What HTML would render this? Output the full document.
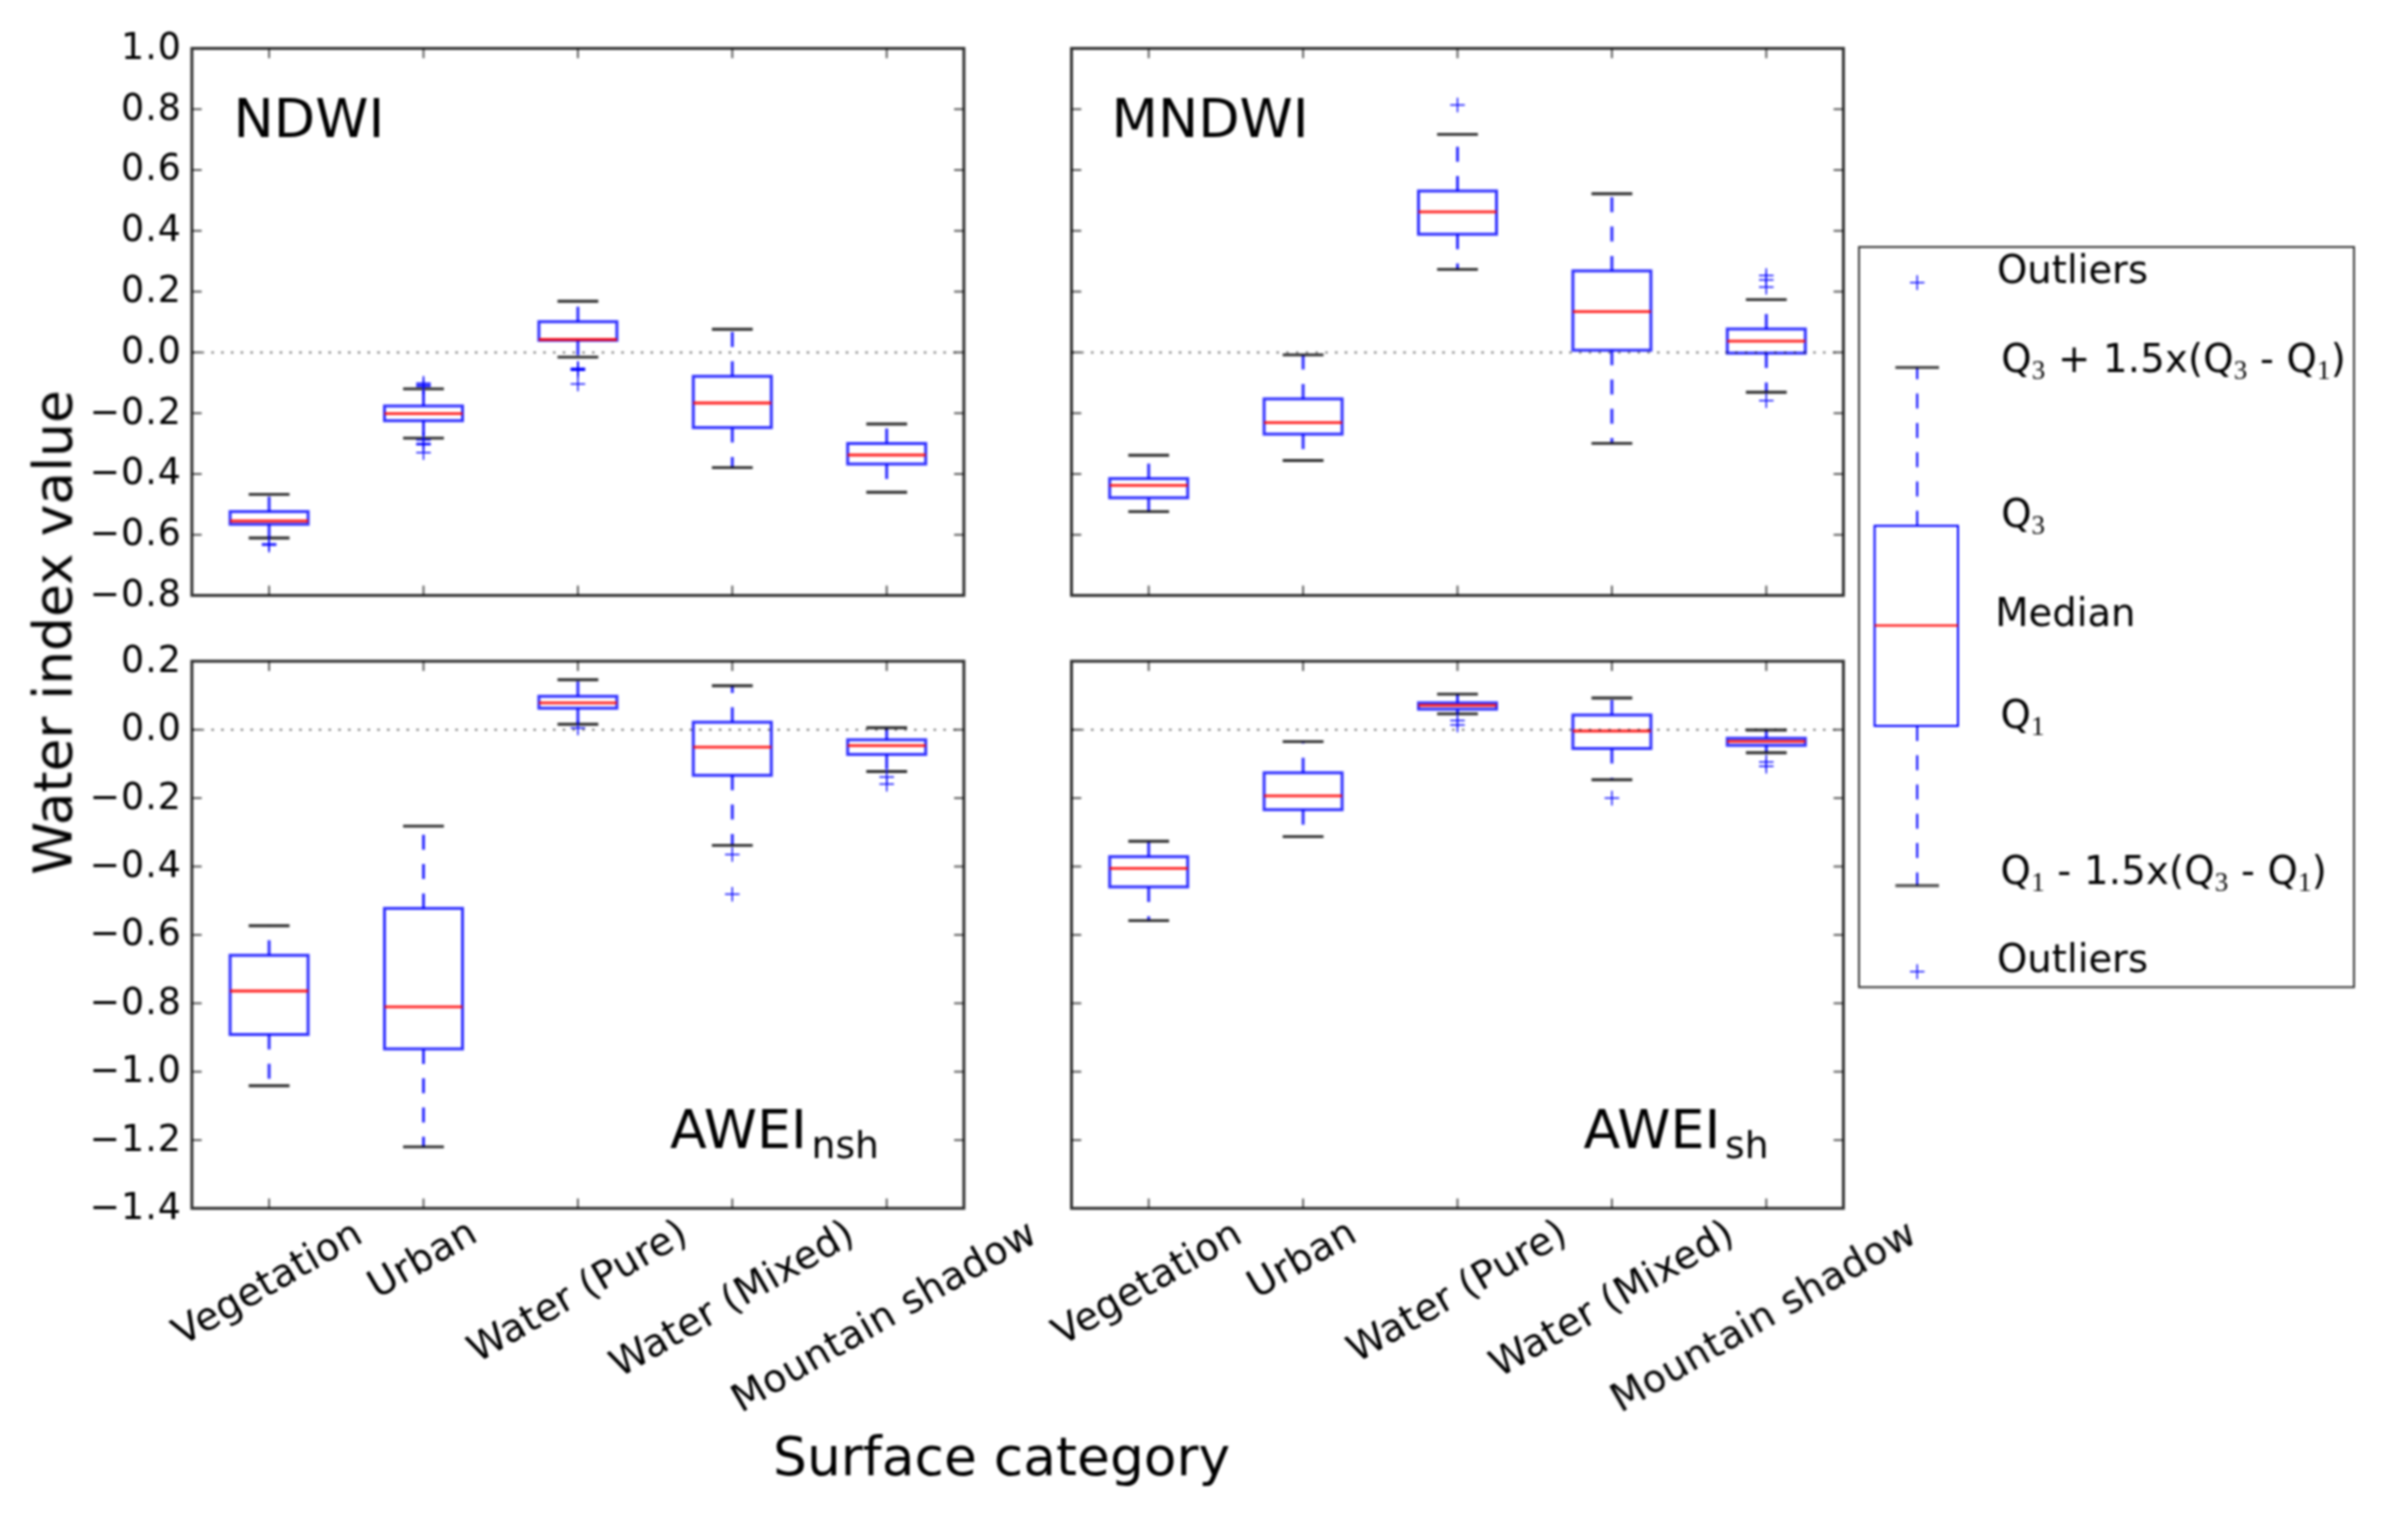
<!DOCTYPE html>
<html lang="en"><head><meta charset="utf-8"><title>Water index boxplots</title>
<style>html,body{margin:0;padding:0;background:#fff}body{width:2386px;height:1516px;overflow:hidden}svg{display:block}svg text{font-family:"DejaVu Sans","Liberation Sans",sans-serif;fill:#000}svg text .sub{font-family:"Liberation Serif","DejaVu Serif",serif}</style></head><body>
<svg width="2386" height="1516" viewBox="0 0 2386 1516">
<defs><filter id="soft" x="-2%" y="-2%" width="104%" height="104%" color-interpolation-filters="sRGB"><feGaussianBlur stdDeviation="0.9"/></filter></defs>
<rect width="2386" height="1516" fill="#fff"/>
<g filter="url(#soft)">
<line x1="269.1" y1="511.6" x2="269.1" y2="494.4" stroke="#0000ff" stroke-width="3" stroke-dasharray="15 14.3" stroke-opacity="0.8"/>
<line x1="269.1" y1="524.2" x2="269.1" y2="538" stroke="#0000ff" stroke-width="3" stroke-dasharray="15 14.3" stroke-opacity="0.8"/>
<line x1="248.7" y1="494.4" x2="289.5" y2="494.4" stroke="#000000" stroke-width="2.9" stroke-opacity="0.82"/>
<line x1="248.7" y1="538" x2="289.5" y2="538" stroke="#000000" stroke-width="2.9" stroke-opacity="0.82"/>
<rect x="230.1" y="511.6" width="78" height="12.6" fill="none" stroke="#0000ff" stroke-width="3" stroke-opacity="0.8"/>
<line x1="230.1" y1="521" x2="308.1" y2="521" stroke="#ff0000" stroke-width="2.8" stroke-opacity="0.85"/>
<line x1="261.8" y1="543.8" x2="276.4" y2="543.8" stroke="#0000ff" stroke-width="1.35"/>
<line x1="269.1" y1="536.5" x2="269.1" y2="551.1" stroke="#0000ff" stroke-width="1.35"/>
<line x1="261.8" y1="545.2" x2="276.4" y2="545.2" stroke="#0000ff" stroke-width="1.35"/>
<line x1="269.1" y1="537.9" x2="269.1" y2="552.5" stroke="#0000ff" stroke-width="1.35"/>
<line x1="423.5" y1="406" x2="423.5" y2="388.9" stroke="#0000ff" stroke-width="3" stroke-dasharray="15 14.3" stroke-opacity="0.8"/>
<line x1="423.5" y1="420.7" x2="423.5" y2="438.1" stroke="#0000ff" stroke-width="3" stroke-dasharray="15 14.3" stroke-opacity="0.8"/>
<line x1="403.1" y1="388.9" x2="443.9" y2="388.9" stroke="#000000" stroke-width="2.9" stroke-opacity="0.82"/>
<line x1="403.1" y1="438.1" x2="443.9" y2="438.1" stroke="#000000" stroke-width="2.9" stroke-opacity="0.82"/>
<rect x="384.5" y="406" width="78" height="14.7" fill="none" stroke="#0000ff" stroke-width="3" stroke-opacity="0.8"/>
<line x1="384.5" y1="413.6" x2="462.5" y2="413.6" stroke="#ff0000" stroke-width="2.8" stroke-opacity="0.85"/>
<line x1="416.2" y1="383.2" x2="430.8" y2="383.2" stroke="#0000ff" stroke-width="1.35"/>
<line x1="423.5" y1="375.9" x2="423.5" y2="390.5" stroke="#0000ff" stroke-width="1.35"/>
<line x1="416.2" y1="385" x2="430.8" y2="385" stroke="#0000ff" stroke-width="1.35"/>
<line x1="423.5" y1="377.7" x2="423.5" y2="392.3" stroke="#0000ff" stroke-width="1.35"/>
<line x1="416.2" y1="386.4" x2="430.8" y2="386.4" stroke="#0000ff" stroke-width="1.35"/>
<line x1="423.5" y1="379.1" x2="423.5" y2="393.7" stroke="#0000ff" stroke-width="1.35"/>
<line x1="416.2" y1="440" x2="430.8" y2="440" stroke="#0000ff" stroke-width="1.35"/>
<line x1="423.5" y1="432.7" x2="423.5" y2="447.3" stroke="#0000ff" stroke-width="1.35"/>
<line x1="416.2" y1="443.6" x2="430.8" y2="443.6" stroke="#0000ff" stroke-width="1.35"/>
<line x1="423.5" y1="436.3" x2="423.5" y2="450.9" stroke="#0000ff" stroke-width="1.35"/>
<line x1="416.2" y1="444.6" x2="430.8" y2="444.6" stroke="#0000ff" stroke-width="1.35"/>
<line x1="423.5" y1="437.3" x2="423.5" y2="451.9" stroke="#0000ff" stroke-width="1.35"/>
<line x1="416.2" y1="452.6" x2="430.8" y2="452.6" stroke="#0000ff" stroke-width="1.35"/>
<line x1="423.5" y1="445.3" x2="423.5" y2="459.9" stroke="#0000ff" stroke-width="1.35"/>
<line x1="577.9" y1="321.7" x2="577.9" y2="301.3" stroke="#0000ff" stroke-width="3" stroke-dasharray="15 14.3" stroke-opacity="0.8"/>
<line x1="577.9" y1="340.3" x2="577.9" y2="357.1" stroke="#0000ff" stroke-width="3" stroke-dasharray="15 14.3" stroke-opacity="0.8"/>
<line x1="557.5" y1="301.3" x2="598.3" y2="301.3" stroke="#000000" stroke-width="2.9" stroke-opacity="0.82"/>
<line x1="557.5" y1="357.1" x2="598.3" y2="357.1" stroke="#000000" stroke-width="2.9" stroke-opacity="0.82"/>
<rect x="538.9" y="321.7" width="78" height="18.6" fill="none" stroke="#0000ff" stroke-width="3" stroke-opacity="0.8"/>
<line x1="538.9" y1="339.5" x2="616.9" y2="339.5" stroke="#ff0000" stroke-width="2.8" stroke-opacity="0.85"/>
<line x1="570.6" y1="368.3" x2="585.2" y2="368.3" stroke="#0000ff" stroke-width="1.35"/>
<line x1="577.9" y1="361" x2="577.9" y2="375.6" stroke="#0000ff" stroke-width="1.35"/>
<line x1="570.6" y1="369.3" x2="585.2" y2="369.3" stroke="#0000ff" stroke-width="1.35"/>
<line x1="577.9" y1="362" x2="577.9" y2="376.6" stroke="#0000ff" stroke-width="1.35"/>
<line x1="570.6" y1="370.3" x2="585.2" y2="370.3" stroke="#0000ff" stroke-width="1.35"/>
<line x1="577.9" y1="363" x2="577.9" y2="377.6" stroke="#0000ff" stroke-width="1.35"/>
<line x1="570.6" y1="384" x2="585.2" y2="384" stroke="#0000ff" stroke-width="1.35"/>
<line x1="577.9" y1="376.7" x2="577.9" y2="391.3" stroke="#0000ff" stroke-width="1.35"/>
<line x1="732.3" y1="376.3" x2="732.3" y2="329.3" stroke="#0000ff" stroke-width="3" stroke-dasharray="15 14.3" stroke-opacity="0.8"/>
<line x1="732.3" y1="427.6" x2="732.3" y2="467.6" stroke="#0000ff" stroke-width="3" stroke-dasharray="15 14.3" stroke-opacity="0.8"/>
<line x1="711.9" y1="329.3" x2="752.7" y2="329.3" stroke="#000000" stroke-width="2.9" stroke-opacity="0.82"/>
<line x1="711.9" y1="467.6" x2="752.7" y2="467.6" stroke="#000000" stroke-width="2.9" stroke-opacity="0.82"/>
<rect x="693.3" y="376.3" width="78" height="51.3" fill="none" stroke="#0000ff" stroke-width="3" stroke-opacity="0.8"/>
<line x1="693.3" y1="403" x2="771.3" y2="403" stroke="#ff0000" stroke-width="2.8" stroke-opacity="0.85"/>
<line x1="886.7" y1="443.5" x2="886.7" y2="424" stroke="#0000ff" stroke-width="3" stroke-dasharray="15 14.3" stroke-opacity="0.8"/>
<line x1="886.7" y1="464" x2="886.7" y2="492.3" stroke="#0000ff" stroke-width="3" stroke-dasharray="15 14.3" stroke-opacity="0.8"/>
<line x1="866.3" y1="424" x2="907.1" y2="424" stroke="#000000" stroke-width="2.9" stroke-opacity="0.82"/>
<line x1="866.3" y1="492.3" x2="907.1" y2="492.3" stroke="#000000" stroke-width="2.9" stroke-opacity="0.82"/>
<rect x="847.7" y="443.5" width="78" height="20.5" fill="none" stroke="#0000ff" stroke-width="3" stroke-opacity="0.8"/>
<line x1="847.7" y1="455" x2="925.7" y2="455" stroke="#ff0000" stroke-width="2.8" stroke-opacity="0.85"/>
<line x1="191.9" y1="352.4" x2="963.9" y2="352.4" stroke="#000" stroke-width="2.03" stroke-dasharray="2.44 7.32" stroke-opacity="0.55"/>
<line x1="269.1" y1="48.4" x2="269.1" y2="58.2" stroke="#000000" stroke-width="2" stroke-opacity="0.62"/>
<line x1="269.1" y1="595.4" x2="269.1" y2="585.6" stroke="#000000" stroke-width="2" stroke-opacity="0.62"/>
<line x1="423.5" y1="48.4" x2="423.5" y2="58.2" stroke="#000000" stroke-width="2" stroke-opacity="0.62"/>
<line x1="423.5" y1="595.4" x2="423.5" y2="585.6" stroke="#000000" stroke-width="2" stroke-opacity="0.62"/>
<line x1="577.9" y1="48.4" x2="577.9" y2="58.2" stroke="#000000" stroke-width="2" stroke-opacity="0.62"/>
<line x1="577.9" y1="595.4" x2="577.9" y2="585.6" stroke="#000000" stroke-width="2" stroke-opacity="0.62"/>
<line x1="732.3" y1="48.4" x2="732.3" y2="58.2" stroke="#000000" stroke-width="2" stroke-opacity="0.62"/>
<line x1="732.3" y1="595.4" x2="732.3" y2="585.6" stroke="#000000" stroke-width="2" stroke-opacity="0.62"/>
<line x1="886.7" y1="48.4" x2="886.7" y2="58.2" stroke="#000000" stroke-width="2" stroke-opacity="0.62"/>
<line x1="886.7" y1="595.4" x2="886.7" y2="585.6" stroke="#000000" stroke-width="2" stroke-opacity="0.62"/>
<line x1="191.9" y1="109.2" x2="201.7" y2="109.2" stroke="#000000" stroke-width="2" stroke-opacity="0.62"/>
<line x1="963.9" y1="109.2" x2="954.1" y2="109.2" stroke="#000000" stroke-width="2" stroke-opacity="0.62"/>
<line x1="191.9" y1="170" x2="201.7" y2="170" stroke="#000000" stroke-width="2" stroke-opacity="0.62"/>
<line x1="963.9" y1="170" x2="954.1" y2="170" stroke="#000000" stroke-width="2" stroke-opacity="0.62"/>
<line x1="191.9" y1="230.8" x2="201.7" y2="230.8" stroke="#000000" stroke-width="2" stroke-opacity="0.62"/>
<line x1="963.9" y1="230.8" x2="954.1" y2="230.8" stroke="#000000" stroke-width="2" stroke-opacity="0.62"/>
<line x1="191.9" y1="291.6" x2="201.7" y2="291.6" stroke="#000000" stroke-width="2" stroke-opacity="0.62"/>
<line x1="963.9" y1="291.6" x2="954.1" y2="291.6" stroke="#000000" stroke-width="2" stroke-opacity="0.62"/>
<line x1="191.9" y1="352.4" x2="201.7" y2="352.4" stroke="#000000" stroke-width="2" stroke-opacity="0.62"/>
<line x1="963.9" y1="352.4" x2="954.1" y2="352.4" stroke="#000000" stroke-width="2" stroke-opacity="0.62"/>
<line x1="191.9" y1="413.2" x2="201.7" y2="413.2" stroke="#000000" stroke-width="2" stroke-opacity="0.62"/>
<line x1="963.9" y1="413.2" x2="954.1" y2="413.2" stroke="#000000" stroke-width="2" stroke-opacity="0.62"/>
<line x1="191.9" y1="474" x2="201.7" y2="474" stroke="#000000" stroke-width="2" stroke-opacity="0.62"/>
<line x1="963.9" y1="474" x2="954.1" y2="474" stroke="#000000" stroke-width="2" stroke-opacity="0.62"/>
<line x1="191.9" y1="534.8" x2="201.7" y2="534.8" stroke="#000000" stroke-width="2" stroke-opacity="0.62"/>
<line x1="963.9" y1="534.8" x2="954.1" y2="534.8" stroke="#000000" stroke-width="2" stroke-opacity="0.62"/>
<rect x="191.9" y="48.4" width="772" height="547" fill="none" stroke="#000000" stroke-width="2.9" stroke-opacity="0.82"/>
<text x="181.9" y="58.8" font-size="36.4" letter-spacing="1" text-anchor="end">1.0</text>
<text x="181.9" y="119.6" font-size="36.4" letter-spacing="1" text-anchor="end">0.8</text>
<text x="181.9" y="180.4" font-size="36.4" letter-spacing="1" text-anchor="end">0.6</text>
<text x="181.9" y="241.2" font-size="36.4" letter-spacing="1" text-anchor="end">0.4</text>
<text x="181.9" y="302" font-size="36.4" letter-spacing="1" text-anchor="end">0.2</text>
<text x="181.9" y="362.8" font-size="36.4" letter-spacing="1" text-anchor="end">0.0</text>
<text x="181.9" y="423.6" font-size="36.4" letter-spacing="1" text-anchor="end">−0.2</text>
<text x="181.9" y="484.4" font-size="36.4" letter-spacing="1" text-anchor="end">−0.4</text>
<text x="181.9" y="545.2" font-size="36.4" letter-spacing="1" text-anchor="end">−0.6</text>
<text x="181.9" y="606" font-size="36.4" letter-spacing="1" text-anchor="end">−0.8</text>
<line x1="1148.7" y1="478.6" x2="1148.7" y2="455.3" stroke="#0000ff" stroke-width="3" stroke-dasharray="15 14.3" stroke-opacity="0.8"/>
<line x1="1148.7" y1="497.8" x2="1148.7" y2="511.6" stroke="#0000ff" stroke-width="3" stroke-dasharray="15 14.3" stroke-opacity="0.8"/>
<line x1="1128.3" y1="455.3" x2="1169.1" y2="455.3" stroke="#000000" stroke-width="2.9" stroke-opacity="0.82"/>
<line x1="1128.3" y1="511.6" x2="1169.1" y2="511.6" stroke="#000000" stroke-width="2.9" stroke-opacity="0.82"/>
<rect x="1109.7" y="478.6" width="78" height="19.2" fill="none" stroke="#0000ff" stroke-width="3" stroke-opacity="0.8"/>
<line x1="1109.7" y1="485.4" x2="1187.7" y2="485.4" stroke="#ff0000" stroke-width="2.8" stroke-opacity="0.85"/>
<line x1="1303.1" y1="398.9" x2="1303.1" y2="354.9" stroke="#0000ff" stroke-width="3" stroke-dasharray="15 14.3" stroke-opacity="0.8"/>
<line x1="1303.1" y1="434.1" x2="1303.1" y2="460.5" stroke="#0000ff" stroke-width="3" stroke-dasharray="15 14.3" stroke-opacity="0.8"/>
<line x1="1282.7" y1="354.9" x2="1323.5" y2="354.9" stroke="#000000" stroke-width="2.9" stroke-opacity="0.82"/>
<line x1="1282.7" y1="460.5" x2="1323.5" y2="460.5" stroke="#000000" stroke-width="2.9" stroke-opacity="0.82"/>
<rect x="1264.1" y="398.9" width="78" height="35.2" fill="none" stroke="#0000ff" stroke-width="3" stroke-opacity="0.8"/>
<line x1="1264.1" y1="422.6" x2="1342.1" y2="422.6" stroke="#ff0000" stroke-width="2.8" stroke-opacity="0.85"/>
<line x1="1457.5" y1="191" x2="1457.5" y2="134.4" stroke="#0000ff" stroke-width="3" stroke-dasharray="15 14.3" stroke-opacity="0.8"/>
<line x1="1457.5" y1="234.2" x2="1457.5" y2="269.4" stroke="#0000ff" stroke-width="3" stroke-dasharray="15 14.3" stroke-opacity="0.8"/>
<line x1="1437.1" y1="134.4" x2="1477.9" y2="134.4" stroke="#000000" stroke-width="2.9" stroke-opacity="0.82"/>
<line x1="1437.1" y1="269.4" x2="1477.9" y2="269.4" stroke="#000000" stroke-width="2.9" stroke-opacity="0.82"/>
<rect x="1418.5" y="191" width="78" height="43.2" fill="none" stroke="#0000ff" stroke-width="3" stroke-opacity="0.8"/>
<line x1="1418.5" y1="211.9" x2="1496.5" y2="211.9" stroke="#ff0000" stroke-width="2.8" stroke-opacity="0.85"/>
<line x1="1450.2" y1="105" x2="1464.8" y2="105" stroke="#0000ff" stroke-width="1.35"/>
<line x1="1457.5" y1="97.7" x2="1457.5" y2="112.3" stroke="#0000ff" stroke-width="1.35"/>
<line x1="1611.9" y1="270.9" x2="1611.9" y2="193.7" stroke="#0000ff" stroke-width="3" stroke-dasharray="15 14.3" stroke-opacity="0.8"/>
<line x1="1611.9" y1="350.2" x2="1611.9" y2="443.4" stroke="#0000ff" stroke-width="3" stroke-dasharray="15 14.3" stroke-opacity="0.8"/>
<line x1="1591.5" y1="193.7" x2="1632.3" y2="193.7" stroke="#000000" stroke-width="2.9" stroke-opacity="0.82"/>
<line x1="1591.5" y1="443.4" x2="1632.3" y2="443.4" stroke="#000000" stroke-width="2.9" stroke-opacity="0.82"/>
<rect x="1572.9" y="270.9" width="78" height="79.3" fill="none" stroke="#0000ff" stroke-width="3" stroke-opacity="0.8"/>
<line x1="1572.9" y1="311.7" x2="1650.9" y2="311.7" stroke="#ff0000" stroke-width="2.8" stroke-opacity="0.85"/>
<line x1="1766.3" y1="329" x2="1766.3" y2="299.6" stroke="#0000ff" stroke-width="3" stroke-dasharray="15 14.3" stroke-opacity="0.8"/>
<line x1="1766.3" y1="353.1" x2="1766.3" y2="392.3" stroke="#0000ff" stroke-width="3" stroke-dasharray="15 14.3" stroke-opacity="0.8"/>
<line x1="1745.9" y1="299.6" x2="1786.7" y2="299.6" stroke="#000000" stroke-width="2.9" stroke-opacity="0.82"/>
<line x1="1745.9" y1="392.3" x2="1786.7" y2="392.3" stroke="#000000" stroke-width="2.9" stroke-opacity="0.82"/>
<rect x="1727.3" y="329" width="78" height="24.1" fill="none" stroke="#0000ff" stroke-width="3" stroke-opacity="0.8"/>
<line x1="1727.3" y1="341.2" x2="1805.3" y2="341.2" stroke="#ff0000" stroke-width="2.8" stroke-opacity="0.85"/>
<line x1="1759" y1="275.5" x2="1773.6" y2="275.5" stroke="#0000ff" stroke-width="1.35"/>
<line x1="1766.3" y1="268.2" x2="1766.3" y2="282.8" stroke="#0000ff" stroke-width="1.35"/>
<line x1="1759" y1="279.9" x2="1773.6" y2="279.9" stroke="#0000ff" stroke-width="1.35"/>
<line x1="1766.3" y1="272.6" x2="1766.3" y2="287.2" stroke="#0000ff" stroke-width="1.35"/>
<line x1="1759" y1="287.1" x2="1773.6" y2="287.1" stroke="#0000ff" stroke-width="1.35"/>
<line x1="1766.3" y1="279.8" x2="1766.3" y2="294.4" stroke="#0000ff" stroke-width="1.35"/>
<line x1="1759" y1="400.6" x2="1773.6" y2="400.6" stroke="#0000ff" stroke-width="1.35"/>
<line x1="1766.3" y1="393.3" x2="1766.3" y2="407.9" stroke="#0000ff" stroke-width="1.35"/>
<line x1="1071.5" y1="352.4" x2="1843.4" y2="352.4" stroke="#000" stroke-width="2.03" stroke-dasharray="2.44 7.32" stroke-opacity="0.55"/>
<line x1="1148.7" y1="48.4" x2="1148.7" y2="58.2" stroke="#000000" stroke-width="2" stroke-opacity="0.62"/>
<line x1="1148.7" y1="595.4" x2="1148.7" y2="585.6" stroke="#000000" stroke-width="2" stroke-opacity="0.62"/>
<line x1="1303.1" y1="48.4" x2="1303.1" y2="58.2" stroke="#000000" stroke-width="2" stroke-opacity="0.62"/>
<line x1="1303.1" y1="595.4" x2="1303.1" y2="585.6" stroke="#000000" stroke-width="2" stroke-opacity="0.62"/>
<line x1="1457.5" y1="48.4" x2="1457.5" y2="58.2" stroke="#000000" stroke-width="2" stroke-opacity="0.62"/>
<line x1="1457.5" y1="595.4" x2="1457.5" y2="585.6" stroke="#000000" stroke-width="2" stroke-opacity="0.62"/>
<line x1="1611.9" y1="48.4" x2="1611.9" y2="58.2" stroke="#000000" stroke-width="2" stroke-opacity="0.62"/>
<line x1="1611.9" y1="595.4" x2="1611.9" y2="585.6" stroke="#000000" stroke-width="2" stroke-opacity="0.62"/>
<line x1="1766.3" y1="48.4" x2="1766.3" y2="58.2" stroke="#000000" stroke-width="2" stroke-opacity="0.62"/>
<line x1="1766.3" y1="595.4" x2="1766.3" y2="585.6" stroke="#000000" stroke-width="2" stroke-opacity="0.62"/>
<line x1="1071.5" y1="109.2" x2="1081.3" y2="109.2" stroke="#000000" stroke-width="2" stroke-opacity="0.62"/>
<line x1="1843.4" y1="109.2" x2="1833.6" y2="109.2" stroke="#000000" stroke-width="2" stroke-opacity="0.62"/>
<line x1="1071.5" y1="170" x2="1081.3" y2="170" stroke="#000000" stroke-width="2" stroke-opacity="0.62"/>
<line x1="1843.4" y1="170" x2="1833.6" y2="170" stroke="#000000" stroke-width="2" stroke-opacity="0.62"/>
<line x1="1071.5" y1="230.8" x2="1081.3" y2="230.8" stroke="#000000" stroke-width="2" stroke-opacity="0.62"/>
<line x1="1843.4" y1="230.8" x2="1833.6" y2="230.8" stroke="#000000" stroke-width="2" stroke-opacity="0.62"/>
<line x1="1071.5" y1="291.6" x2="1081.3" y2="291.6" stroke="#000000" stroke-width="2" stroke-opacity="0.62"/>
<line x1="1843.4" y1="291.6" x2="1833.6" y2="291.6" stroke="#000000" stroke-width="2" stroke-opacity="0.62"/>
<line x1="1071.5" y1="352.4" x2="1081.3" y2="352.4" stroke="#000000" stroke-width="2" stroke-opacity="0.62"/>
<line x1="1843.4" y1="352.4" x2="1833.6" y2="352.4" stroke="#000000" stroke-width="2" stroke-opacity="0.62"/>
<line x1="1071.5" y1="413.2" x2="1081.3" y2="413.2" stroke="#000000" stroke-width="2" stroke-opacity="0.62"/>
<line x1="1843.4" y1="413.2" x2="1833.6" y2="413.2" stroke="#000000" stroke-width="2" stroke-opacity="0.62"/>
<line x1="1071.5" y1="474" x2="1081.3" y2="474" stroke="#000000" stroke-width="2" stroke-opacity="0.62"/>
<line x1="1843.4" y1="474" x2="1833.6" y2="474" stroke="#000000" stroke-width="2" stroke-opacity="0.62"/>
<line x1="1071.5" y1="534.8" x2="1081.3" y2="534.8" stroke="#000000" stroke-width="2" stroke-opacity="0.62"/>
<line x1="1843.4" y1="534.8" x2="1833.6" y2="534.8" stroke="#000000" stroke-width="2" stroke-opacity="0.62"/>
<rect x="1071.5" y="48.4" width="771.9" height="547" fill="none" stroke="#000000" stroke-width="2.9" stroke-opacity="0.82"/>
<line x1="269.1" y1="955.3" x2="269.1" y2="925.7" stroke="#0000ff" stroke-width="3" stroke-dasharray="15 14.3" stroke-opacity="0.8"/>
<line x1="269.1" y1="1034.5" x2="269.1" y2="1085.8" stroke="#0000ff" stroke-width="3" stroke-dasharray="15 14.3" stroke-opacity="0.8"/>
<line x1="248.7" y1="925.7" x2="289.5" y2="925.7" stroke="#000000" stroke-width="2.9" stroke-opacity="0.82"/>
<line x1="248.7" y1="1085.8" x2="289.5" y2="1085.8" stroke="#000000" stroke-width="2.9" stroke-opacity="0.82"/>
<rect x="230.1" y="955.3" width="78" height="79.2" fill="none" stroke="#0000ff" stroke-width="3" stroke-opacity="0.8"/>
<line x1="230.1" y1="991" x2="308.1" y2="991" stroke="#ff0000" stroke-width="2.8" stroke-opacity="0.85"/>
<line x1="423.5" y1="908.4" x2="423.5" y2="826.1" stroke="#0000ff" stroke-width="3" stroke-dasharray="15 14.3" stroke-opacity="0.8"/>
<line x1="423.5" y1="1048.9" x2="423.5" y2="1146.9" stroke="#0000ff" stroke-width="3" stroke-dasharray="15 14.3" stroke-opacity="0.8"/>
<line x1="403.1" y1="826.1" x2="443.9" y2="826.1" stroke="#000000" stroke-width="2.9" stroke-opacity="0.82"/>
<line x1="403.1" y1="1146.9" x2="443.9" y2="1146.9" stroke="#000000" stroke-width="2.9" stroke-opacity="0.82"/>
<rect x="384.5" y="908.4" width="78" height="140.5" fill="none" stroke="#0000ff" stroke-width="3" stroke-opacity="0.8"/>
<line x1="384.5" y1="1006.9" x2="462.5" y2="1006.9" stroke="#ff0000" stroke-width="2.8" stroke-opacity="0.85"/>
<line x1="577.9" y1="696.3" x2="577.9" y2="679.7" stroke="#0000ff" stroke-width="3" stroke-dasharray="15 14.3" stroke-opacity="0.8"/>
<line x1="577.9" y1="708.2" x2="577.9" y2="724.2" stroke="#0000ff" stroke-width="3" stroke-dasharray="15 14.3" stroke-opacity="0.8"/>
<line x1="557.5" y1="679.7" x2="598.3" y2="679.7" stroke="#000000" stroke-width="2.9" stroke-opacity="0.82"/>
<line x1="557.5" y1="724.2" x2="598.3" y2="724.2" stroke="#000000" stroke-width="2.9" stroke-opacity="0.82"/>
<rect x="538.9" y="696.3" width="78" height="11.9" fill="none" stroke="#0000ff" stroke-width="3" stroke-opacity="0.8"/>
<line x1="538.9" y1="702.9" x2="616.9" y2="702.9" stroke="#ff0000" stroke-width="2.8" stroke-opacity="0.85"/>
<line x1="570.6" y1="728" x2="585.2" y2="728" stroke="#0000ff" stroke-width="1.35"/>
<line x1="577.9" y1="720.7" x2="577.9" y2="735.3" stroke="#0000ff" stroke-width="1.35"/>
<line x1="732.3" y1="722.2" x2="732.3" y2="685.8" stroke="#0000ff" stroke-width="3" stroke-dasharray="15 14.3" stroke-opacity="0.8"/>
<line x1="732.3" y1="775.3" x2="732.3" y2="845.4" stroke="#0000ff" stroke-width="3" stroke-dasharray="15 14.3" stroke-opacity="0.8"/>
<line x1="711.9" y1="685.8" x2="752.7" y2="685.8" stroke="#000000" stroke-width="2.9" stroke-opacity="0.82"/>
<line x1="711.9" y1="845.4" x2="752.7" y2="845.4" stroke="#000000" stroke-width="2.9" stroke-opacity="0.82"/>
<rect x="693.3" y="722.2" width="78" height="53.1" fill="none" stroke="#0000ff" stroke-width="3" stroke-opacity="0.8"/>
<line x1="693.3" y1="747.1" x2="771.3" y2="747.1" stroke="#ff0000" stroke-width="2.8" stroke-opacity="0.85"/>
<line x1="725" y1="854.5" x2="739.6" y2="854.5" stroke="#0000ff" stroke-width="1.35"/>
<line x1="732.3" y1="847.2" x2="732.3" y2="861.8" stroke="#0000ff" stroke-width="1.35"/>
<line x1="725" y1="894.2" x2="739.6" y2="894.2" stroke="#0000ff" stroke-width="1.35"/>
<line x1="732.3" y1="886.9" x2="732.3" y2="901.5" stroke="#0000ff" stroke-width="1.35"/>
<line x1="886.7" y1="739.8" x2="886.7" y2="727.8" stroke="#0000ff" stroke-width="3" stroke-dasharray="15 14.3" stroke-opacity="0.8"/>
<line x1="886.7" y1="754.4" x2="886.7" y2="771.5" stroke="#0000ff" stroke-width="3" stroke-dasharray="15 14.3" stroke-opacity="0.8"/>
<line x1="866.3" y1="727.8" x2="907.1" y2="727.8" stroke="#000000" stroke-width="2.9" stroke-opacity="0.82"/>
<line x1="866.3" y1="771.5" x2="907.1" y2="771.5" stroke="#000000" stroke-width="2.9" stroke-opacity="0.82"/>
<rect x="847.7" y="739.8" width="78" height="14.6" fill="none" stroke="#0000ff" stroke-width="3" stroke-opacity="0.8"/>
<line x1="847.7" y1="745.6" x2="925.7" y2="745.6" stroke="#ff0000" stroke-width="2.8" stroke-opacity="0.85"/>
<line x1="879.4" y1="777" x2="894" y2="777" stroke="#0000ff" stroke-width="1.35"/>
<line x1="886.7" y1="769.7" x2="886.7" y2="784.3" stroke="#0000ff" stroke-width="1.35"/>
<line x1="879.4" y1="784.1" x2="894" y2="784.1" stroke="#0000ff" stroke-width="1.35"/>
<line x1="886.7" y1="776.8" x2="886.7" y2="791.4" stroke="#0000ff" stroke-width="1.35"/>
<line x1="191.9" y1="729.7" x2="963.9" y2="729.7" stroke="#000" stroke-width="2.03" stroke-dasharray="2.44 7.32" stroke-opacity="0.55"/>
<line x1="269.1" y1="661.2" x2="269.1" y2="671" stroke="#000000" stroke-width="2" stroke-opacity="0.62"/>
<line x1="269.1" y1="1208.3" x2="269.1" y2="1198.5" stroke="#000000" stroke-width="2" stroke-opacity="0.62"/>
<line x1="423.5" y1="661.2" x2="423.5" y2="671" stroke="#000000" stroke-width="2" stroke-opacity="0.62"/>
<line x1="423.5" y1="1208.3" x2="423.5" y2="1198.5" stroke="#000000" stroke-width="2" stroke-opacity="0.62"/>
<line x1="577.9" y1="661.2" x2="577.9" y2="671" stroke="#000000" stroke-width="2" stroke-opacity="0.62"/>
<line x1="577.9" y1="1208.3" x2="577.9" y2="1198.5" stroke="#000000" stroke-width="2" stroke-opacity="0.62"/>
<line x1="732.3" y1="661.2" x2="732.3" y2="671" stroke="#000000" stroke-width="2" stroke-opacity="0.62"/>
<line x1="732.3" y1="1208.3" x2="732.3" y2="1198.5" stroke="#000000" stroke-width="2" stroke-opacity="0.62"/>
<line x1="886.7" y1="661.2" x2="886.7" y2="671" stroke="#000000" stroke-width="2" stroke-opacity="0.62"/>
<line x1="886.7" y1="1208.3" x2="886.7" y2="1198.5" stroke="#000000" stroke-width="2" stroke-opacity="0.62"/>
<line x1="191.9" y1="729.7" x2="201.7" y2="729.7" stroke="#000000" stroke-width="2" stroke-opacity="0.62"/>
<line x1="963.9" y1="729.7" x2="954.1" y2="729.7" stroke="#000000" stroke-width="2" stroke-opacity="0.62"/>
<line x1="191.9" y1="798.1" x2="201.7" y2="798.1" stroke="#000000" stroke-width="2" stroke-opacity="0.62"/>
<line x1="963.9" y1="798.1" x2="954.1" y2="798.1" stroke="#000000" stroke-width="2" stroke-opacity="0.62"/>
<line x1="191.9" y1="866.5" x2="201.7" y2="866.5" stroke="#000000" stroke-width="2" stroke-opacity="0.62"/>
<line x1="963.9" y1="866.5" x2="954.1" y2="866.5" stroke="#000000" stroke-width="2" stroke-opacity="0.62"/>
<line x1="191.9" y1="934.9" x2="201.7" y2="934.9" stroke="#000000" stroke-width="2" stroke-opacity="0.62"/>
<line x1="963.9" y1="934.9" x2="954.1" y2="934.9" stroke="#000000" stroke-width="2" stroke-opacity="0.62"/>
<line x1="191.9" y1="1003.3" x2="201.7" y2="1003.3" stroke="#000000" stroke-width="2" stroke-opacity="0.62"/>
<line x1="963.9" y1="1003.3" x2="954.1" y2="1003.3" stroke="#000000" stroke-width="2" stroke-opacity="0.62"/>
<line x1="191.9" y1="1071.7" x2="201.7" y2="1071.7" stroke="#000000" stroke-width="2" stroke-opacity="0.62"/>
<line x1="963.9" y1="1071.7" x2="954.1" y2="1071.7" stroke="#000000" stroke-width="2" stroke-opacity="0.62"/>
<line x1="191.9" y1="1140.1" x2="201.7" y2="1140.1" stroke="#000000" stroke-width="2" stroke-opacity="0.62"/>
<line x1="963.9" y1="1140.1" x2="954.1" y2="1140.1" stroke="#000000" stroke-width="2" stroke-opacity="0.62"/>
<rect x="191.9" y="661.2" width="772" height="547.1" fill="none" stroke="#000000" stroke-width="2.9" stroke-opacity="0.82"/>
<text x="181.9" y="671.7" font-size="36.4" letter-spacing="1" text-anchor="end">0.2</text>
<text x="181.9" y="740.1" font-size="36.4" letter-spacing="1" text-anchor="end">0.0</text>
<text x="181.9" y="808.5" font-size="36.4" letter-spacing="1" text-anchor="end">−0.2</text>
<text x="181.9" y="876.9" font-size="36.4" letter-spacing="1" text-anchor="end">−0.4</text>
<text x="181.9" y="945.3" font-size="36.4" letter-spacing="1" text-anchor="end">−0.6</text>
<text x="181.9" y="1013.7" font-size="36.4" letter-spacing="1" text-anchor="end">−0.8</text>
<text x="181.9" y="1082.1" font-size="36.4" letter-spacing="1" text-anchor="end">−1.0</text>
<text x="181.9" y="1150.5" font-size="36.4" letter-spacing="1" text-anchor="end">−1.2</text>
<text x="181.9" y="1218.9" font-size="36.4" letter-spacing="1" text-anchor="end">−1.4</text>
<line x1="1148.7" y1="856.7" x2="1148.7" y2="841.2" stroke="#0000ff" stroke-width="3" stroke-dasharray="15 14.3" stroke-opacity="0.8"/>
<line x1="1148.7" y1="886.9" x2="1148.7" y2="920.6" stroke="#0000ff" stroke-width="3" stroke-dasharray="15 14.3" stroke-opacity="0.8"/>
<line x1="1128.3" y1="841.2" x2="1169.1" y2="841.2" stroke="#000000" stroke-width="2.9" stroke-opacity="0.82"/>
<line x1="1128.3" y1="920.6" x2="1169.1" y2="920.6" stroke="#000000" stroke-width="2.9" stroke-opacity="0.82"/>
<rect x="1109.7" y="856.7" width="78" height="30.2" fill="none" stroke="#0000ff" stroke-width="3" stroke-opacity="0.8"/>
<line x1="1109.7" y1="868.3" x2="1187.7" y2="868.3" stroke="#ff0000" stroke-width="2.8" stroke-opacity="0.85"/>
<line x1="1303.1" y1="772.8" x2="1303.1" y2="741.6" stroke="#0000ff" stroke-width="3" stroke-dasharray="15 14.3" stroke-opacity="0.8"/>
<line x1="1303.1" y1="809.7" x2="1303.1" y2="836.6" stroke="#0000ff" stroke-width="3" stroke-dasharray="15 14.3" stroke-opacity="0.8"/>
<line x1="1282.7" y1="741.6" x2="1323.5" y2="741.6" stroke="#000000" stroke-width="2.9" stroke-opacity="0.82"/>
<line x1="1282.7" y1="836.6" x2="1323.5" y2="836.6" stroke="#000000" stroke-width="2.9" stroke-opacity="0.82"/>
<rect x="1264.1" y="772.8" width="78" height="36.9" fill="none" stroke="#0000ff" stroke-width="3" stroke-opacity="0.8"/>
<line x1="1264.1" y1="795.9" x2="1342.1" y2="795.9" stroke="#ff0000" stroke-width="2.8" stroke-opacity="0.85"/>
<line x1="1457.5" y1="702.9" x2="1457.5" y2="694.1" stroke="#0000ff" stroke-width="3" stroke-dasharray="15 14.3" stroke-opacity="0.8"/>
<line x1="1457.5" y1="709.1" x2="1457.5" y2="713.9" stroke="#0000ff" stroke-width="3" stroke-dasharray="15 14.3" stroke-opacity="0.8"/>
<line x1="1437.1" y1="694.1" x2="1477.9" y2="694.1" stroke="#000000" stroke-width="2.9" stroke-opacity="0.82"/>
<line x1="1437.1" y1="713.9" x2="1477.9" y2="713.9" stroke="#000000" stroke-width="2.9" stroke-opacity="0.82"/>
<rect x="1418.5" y="702.9" width="78" height="6.2" fill="none" stroke="#0000ff" stroke-width="3" stroke-opacity="0.8"/>
<line x1="1418.5" y1="705.4" x2="1496.5" y2="705.4" stroke="#ff0000" stroke-width="2.8" stroke-opacity="0.85"/>
<line x1="1450.2" y1="720.5" x2="1464.8" y2="720.5" stroke="#0000ff" stroke-width="1.35"/>
<line x1="1457.5" y1="713.2" x2="1457.5" y2="727.8" stroke="#0000ff" stroke-width="1.35"/>
<line x1="1450.2" y1="725" x2="1464.8" y2="725" stroke="#0000ff" stroke-width="1.35"/>
<line x1="1457.5" y1="717.7" x2="1457.5" y2="732.3" stroke="#0000ff" stroke-width="1.35"/>
<line x1="1611.9" y1="715" x2="1611.9" y2="698" stroke="#0000ff" stroke-width="3" stroke-dasharray="15 14.3" stroke-opacity="0.8"/>
<line x1="1611.9" y1="748.5" x2="1611.9" y2="779.8" stroke="#0000ff" stroke-width="3" stroke-dasharray="15 14.3" stroke-opacity="0.8"/>
<line x1="1591.5" y1="698" x2="1632.3" y2="698" stroke="#000000" stroke-width="2.9" stroke-opacity="0.82"/>
<line x1="1591.5" y1="779.8" x2="1632.3" y2="779.8" stroke="#000000" stroke-width="2.9" stroke-opacity="0.82"/>
<rect x="1572.9" y="715" width="78" height="33.5" fill="none" stroke="#0000ff" stroke-width="3" stroke-opacity="0.8"/>
<line x1="1572.9" y1="731" x2="1650.9" y2="731" stroke="#ff0000" stroke-width="2.8" stroke-opacity="0.85"/>
<line x1="1604.6" y1="798.1" x2="1619.2" y2="798.1" stroke="#0000ff" stroke-width="1.35"/>
<line x1="1611.9" y1="790.8" x2="1611.9" y2="805.4" stroke="#0000ff" stroke-width="1.35"/>
<line x1="1766.3" y1="738.3" x2="1766.3" y2="730" stroke="#0000ff" stroke-width="3" stroke-dasharray="15 14.3" stroke-opacity="0.8"/>
<line x1="1766.3" y1="745.3" x2="1766.3" y2="752.8" stroke="#0000ff" stroke-width="3" stroke-dasharray="15 14.3" stroke-opacity="0.8"/>
<line x1="1745.9" y1="730" x2="1786.7" y2="730" stroke="#000000" stroke-width="2.9" stroke-opacity="0.82"/>
<line x1="1745.9" y1="752.8" x2="1786.7" y2="752.8" stroke="#000000" stroke-width="2.9" stroke-opacity="0.82"/>
<rect x="1727.3" y="738.3" width="78" height="7" fill="none" stroke="#0000ff" stroke-width="3" stroke-opacity="0.8"/>
<line x1="1727.3" y1="741.3" x2="1805.3" y2="741.3" stroke="#ff0000" stroke-width="2.8" stroke-opacity="0.85"/>
<line x1="1759" y1="762" x2="1773.6" y2="762" stroke="#0000ff" stroke-width="1.35"/>
<line x1="1766.3" y1="754.7" x2="1766.3" y2="769.3" stroke="#0000ff" stroke-width="1.35"/>
<line x1="1759" y1="766.3" x2="1773.6" y2="766.3" stroke="#0000ff" stroke-width="1.35"/>
<line x1="1766.3" y1="759" x2="1766.3" y2="773.6" stroke="#0000ff" stroke-width="1.35"/>
<line x1="1071.5" y1="729.7" x2="1843.4" y2="729.7" stroke="#000" stroke-width="2.03" stroke-dasharray="2.44 7.32" stroke-opacity="0.55"/>
<line x1="1148.7" y1="661.2" x2="1148.7" y2="671" stroke="#000000" stroke-width="2" stroke-opacity="0.62"/>
<line x1="1148.7" y1="1208.3" x2="1148.7" y2="1198.5" stroke="#000000" stroke-width="2" stroke-opacity="0.62"/>
<line x1="1303.1" y1="661.2" x2="1303.1" y2="671" stroke="#000000" stroke-width="2" stroke-opacity="0.62"/>
<line x1="1303.1" y1="1208.3" x2="1303.1" y2="1198.5" stroke="#000000" stroke-width="2" stroke-opacity="0.62"/>
<line x1="1457.5" y1="661.2" x2="1457.5" y2="671" stroke="#000000" stroke-width="2" stroke-opacity="0.62"/>
<line x1="1457.5" y1="1208.3" x2="1457.5" y2="1198.5" stroke="#000000" stroke-width="2" stroke-opacity="0.62"/>
<line x1="1611.9" y1="661.2" x2="1611.9" y2="671" stroke="#000000" stroke-width="2" stroke-opacity="0.62"/>
<line x1="1611.9" y1="1208.3" x2="1611.9" y2="1198.5" stroke="#000000" stroke-width="2" stroke-opacity="0.62"/>
<line x1="1766.3" y1="661.2" x2="1766.3" y2="671" stroke="#000000" stroke-width="2" stroke-opacity="0.62"/>
<line x1="1766.3" y1="1208.3" x2="1766.3" y2="1198.5" stroke="#000000" stroke-width="2" stroke-opacity="0.62"/>
<line x1="1071.5" y1="729.7" x2="1081.3" y2="729.7" stroke="#000000" stroke-width="2" stroke-opacity="0.62"/>
<line x1="1843.4" y1="729.7" x2="1833.6" y2="729.7" stroke="#000000" stroke-width="2" stroke-opacity="0.62"/>
<line x1="1071.5" y1="798.1" x2="1081.3" y2="798.1" stroke="#000000" stroke-width="2" stroke-opacity="0.62"/>
<line x1="1843.4" y1="798.1" x2="1833.6" y2="798.1" stroke="#000000" stroke-width="2" stroke-opacity="0.62"/>
<line x1="1071.5" y1="866.5" x2="1081.3" y2="866.5" stroke="#000000" stroke-width="2" stroke-opacity="0.62"/>
<line x1="1843.4" y1="866.5" x2="1833.6" y2="866.5" stroke="#000000" stroke-width="2" stroke-opacity="0.62"/>
<line x1="1071.5" y1="934.9" x2="1081.3" y2="934.9" stroke="#000000" stroke-width="2" stroke-opacity="0.62"/>
<line x1="1843.4" y1="934.9" x2="1833.6" y2="934.9" stroke="#000000" stroke-width="2" stroke-opacity="0.62"/>
<line x1="1071.5" y1="1003.3" x2="1081.3" y2="1003.3" stroke="#000000" stroke-width="2" stroke-opacity="0.62"/>
<line x1="1843.4" y1="1003.3" x2="1833.6" y2="1003.3" stroke="#000000" stroke-width="2" stroke-opacity="0.62"/>
<line x1="1071.5" y1="1071.7" x2="1081.3" y2="1071.7" stroke="#000000" stroke-width="2" stroke-opacity="0.62"/>
<line x1="1843.4" y1="1071.7" x2="1833.6" y2="1071.7" stroke="#000000" stroke-width="2" stroke-opacity="0.62"/>
<line x1="1071.5" y1="1140.1" x2="1081.3" y2="1140.1" stroke="#000000" stroke-width="2" stroke-opacity="0.62"/>
<line x1="1843.4" y1="1140.1" x2="1833.6" y2="1140.1" stroke="#000000" stroke-width="2" stroke-opacity="0.62"/>
<rect x="1071.5" y="661.2" width="771.9" height="547.1" fill="none" stroke="#000000" stroke-width="2.9" stroke-opacity="0.82"/>
<text x="233.6" y="137" font-size="53.8">NDWI</text>
<text x="1111.5" y="137" font-size="53.8">MNDWI</text>
<text x="670" y="1148.4" font-size="53.8">AWEI<tspan font-size="37.66" dx="4.6" dy="10">nsh</tspan></text>
<text x="1583.5" y="1148.4" font-size="53.8">AWEI<tspan font-size="37.66" dx="4.6" dy="10">sh</tspan></text>
<text x="773" y="1475" font-size="53.5">Surface category</text>
<text transform="translate(71.5 632.5) rotate(-90)" font-size="53.5" text-anchor="middle">Water index value</text>
<text transform="translate(273.5 1293.6) rotate(-30)" font-size="38.7" letter-spacing="0.25" text-anchor="middle">Vegetation</text>
<text transform="translate(428.4 1269.4) rotate(-30)" font-size="38.7" letter-spacing="0.25" text-anchor="middle">Urban</text>
<text transform="translate(583.7 1301.8) rotate(-30)" font-size="38.7" letter-spacing="0.25" text-anchor="middle">Water (Pure)</text>
<text transform="translate(738.3 1309.5) rotate(-30)" font-size="38.7" letter-spacing="0.25" text-anchor="middle">Water (Mixed)</text>
<text transform="translate(890.1 1327) rotate(-30)" font-size="38.7" letter-spacing="0.25" text-anchor="middle">Mountain shadow</text>
<text transform="translate(1153.1 1293.6) rotate(-30)" font-size="38.7" letter-spacing="0.25" text-anchor="middle">Vegetation</text>
<text transform="translate(1308 1269.4) rotate(-30)" font-size="38.7" letter-spacing="0.25" text-anchor="middle">Urban</text>
<text transform="translate(1463.3 1301.8) rotate(-30)" font-size="38.7" letter-spacing="0.25" text-anchor="middle">Water (Pure)</text>
<text transform="translate(1617.9 1309.5) rotate(-30)" font-size="38.7" letter-spacing="0.25" text-anchor="middle">Water (Mixed)</text>
<text transform="translate(1769.7 1327) rotate(-30)" font-size="38.7" letter-spacing="0.25" text-anchor="middle">Mountain shadow</text>
<rect x="1859" y="247" width="495" height="740.2" fill="#fff" stroke="#000" stroke-width="1.92" stroke-opacity="0.8"/>
<line x1="1917.2" y1="525.8" x2="1917.2" y2="367.4" stroke="#0000ff" stroke-width="2" stroke-dasharray="15 14.3"/>
<line x1="1917.2" y1="725.9" x2="1917.2" y2="885.6" stroke="#0000ff" stroke-width="2" stroke-dasharray="15 14.3"/>
<line x1="1895.4" y1="367.4" x2="1939" y2="367.4" stroke="#000" stroke-width="3" stroke-opacity="0.7"/>
<line x1="1895.4" y1="885.6" x2="1939" y2="885.6" stroke="#000" stroke-width="3.2" stroke-opacity="0.65"/>
<rect x="1874.6" y="525.8" width="83.4" height="200.1" fill="none" stroke="#0000ff" stroke-width="2"/>
<line x1="1874.6" y1="625.6" x2="1958" y2="625.6" stroke="#ff0000" stroke-width="2"/>
<line x1="1909.9" y1="282.6" x2="1924.5" y2="282.6" stroke="#0000ff" stroke-width="1.35"/>
<line x1="1917.2" y1="275.3" x2="1917.2" y2="289.9" stroke="#0000ff" stroke-width="1.35"/>
<line x1="1909.9" y1="971.6" x2="1924.5" y2="971.6" stroke="#0000ff" stroke-width="1.35"/>
<line x1="1917.2" y1="964.3" x2="1917.2" y2="978.9" stroke="#0000ff" stroke-width="1.35"/>
<text x="1997" y="282.6" font-size="38.6">Outliers</text>
<text x="2001.2" y="371.6" letter-spacing="0.2" font-size="38.6">Q<tspan class="sub" font-size="27.02" dy="7">3</tspan><tspan dy="-7"> + 1.5x(</tspan>Q<tspan class="sub" font-size="27.02" dy="7">3</tspan><tspan dy="-7"> - </tspan>Q<tspan class="sub" font-size="27.02" dy="7">1</tspan><tspan dy="-7">)</tspan></text>
<text x="2001.2" y="527" font-size="38.6">Q<tspan class="sub" font-size="27.02" dy="7">3</tspan><tspan dy="-7"></tspan></text>
<text x="1995.2" y="626.4" font-size="38.6">Median</text>
<text x="2000.6" y="728" font-size="38.6">Q<tspan class="sub" font-size="27.02" dy="7">1</tspan><tspan dy="-7"></tspan></text>
<text x="2000.6" y="883.7" letter-spacing="0.2" font-size="38.6">Q<tspan class="sub" font-size="27.02" dy="7">1</tspan><tspan dy="-7"> - 1.5x(</tspan>Q<tspan class="sub" font-size="27.02" dy="7">3</tspan><tspan dy="-7"> - </tspan>Q<tspan class="sub" font-size="27.02" dy="7">1</tspan><tspan dy="-7">)</tspan></text>
<text x="1997" y="972.1" font-size="38.6">Outliers</text>
</g>
</svg></body></html>
